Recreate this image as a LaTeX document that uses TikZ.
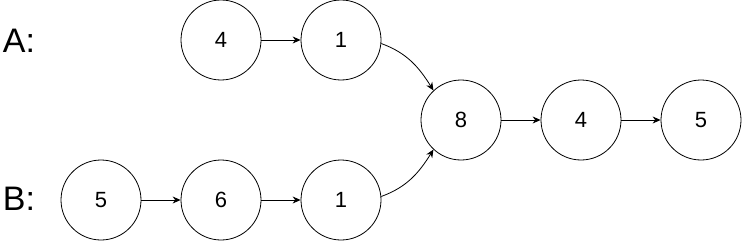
\documentclass[tikz,border=0pt]{standalone}
\usepackage{fontspec}
\setmainfont{Liberation Sans}
\usetikzlibrary{arrows.meta}
\begin{document}
\begin{tikzpicture}[x=1pt,y=-1pt,
  ll/.style={circle,draw,line width=0.8pt,minimum size=80pt,inner sep=0pt,font=\fontsize{22}{24}\selectfont},
  lab/.style={font=\fontsize{34}{38}\selectfont,inner sep=0pt},
  arr/.style={-{Stealth[length=8pt,width=7pt]},line width=0.8pt}]
\useasboundingbox (0,0) rectangle (742,241);
\node[ll] (a4) at (221,40) {4};
\node[ll] (a1) at (341,40) {1};
\node[ll] (c8) at (461,120) {8};
\node[ll] (c4) at (581,120) {4};
\node[ll] (c5) at (701,120) {5};
\node[ll] (b5) at (101,200) {5};
\node[ll] (b6) at (221,200) {6};
\node[ll] (b1) at (341,200) {1};
\node[lab] (la) at (19,41) {A:};
\node[lab] (lb) at (19,199) {B:};
\draw[arr] (a4) -- (a1);
\draw[arr] (c8) -- (c4);
\draw[arr] (c4) -- (c5);
\draw[arr] (b5) -- (b6);
\draw[arr] (b6) -- (b1);
\draw[arr] (a1.-5) to[out=-20,in=122] (c8.133);
\draw[arr] (b1.5) to[out=20,in=-122] (c8.-133);
\end{tikzpicture}
\end{document}
